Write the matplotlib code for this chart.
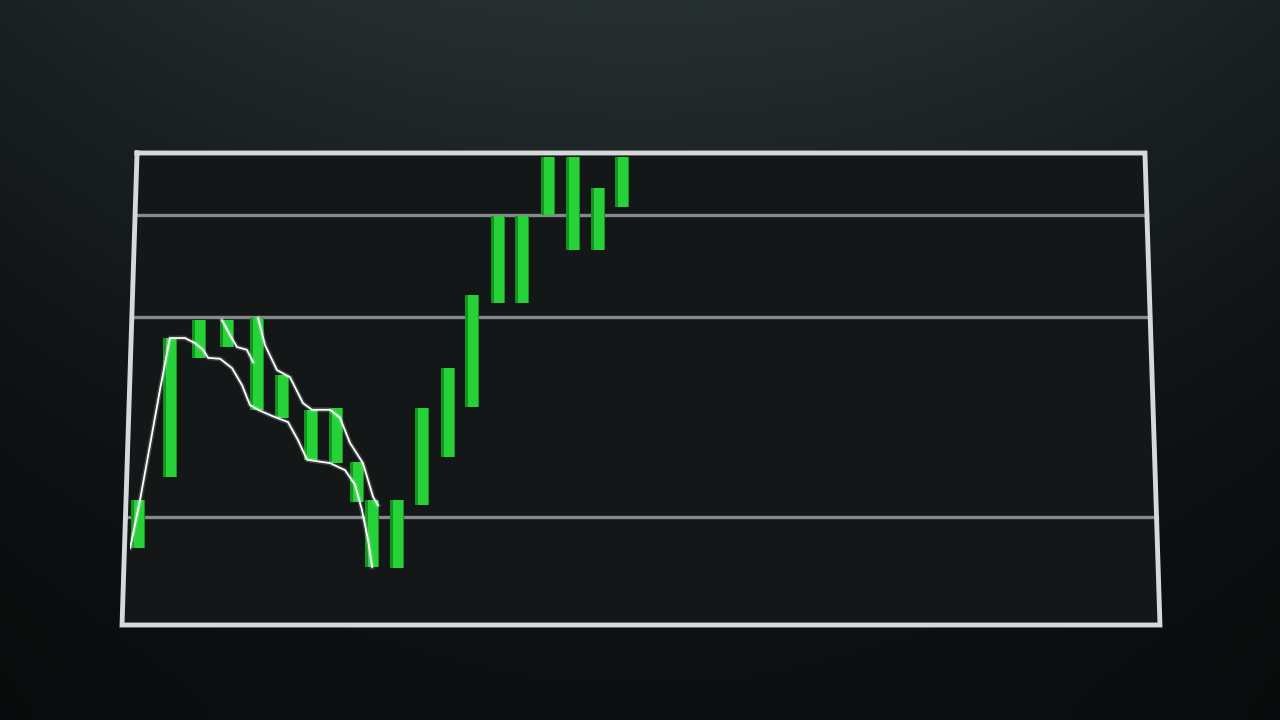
import numpy as np
import matplotlib
matplotlib.use("Agg")
import matplotlib.pyplot as plt

# bar data: time position, top and bottom price (price scale 0..100)
bar_t = [0.0, 1.25, 2.4, 3.5, 4.67, 5.65, 6.78, 7.76, 8.59, 9.18,
         10.16, 11.14, 12.16, 13.1, 14.12, 15.06, 16.08, 17.06, 18.04, 18.98]
bar_top = [26.5, 60.8, 64.6, 64.6, 65.0, 53.0, 45.6, 46.0, 34.5, 26.5,
           26.5, 46.0, 54.4, 69.9, 86.7, 86.7, 99.2, 99.2, 92.6, 99.2]
bar_bot = [16.3, 31.4, 56.6, 58.9, 45.6, 43.9, 35.0, 34.3, 26.1, 12.3,
           12.1, 25.4, 35.6, 46.2, 68.2, 68.2, 86.9, 79.4, 79.4, 88.6]

# white trace lines
low_t = [-0.31, 0.08, 0.47, 0.86, 1.25, 1.84, 2.24, 2.55, 2.75, 3.22, 3.69, 4.08,
         4.39, 4.71, 5.25, 5.88, 6.27, 6.63, 7.53, 8.12, 8.51, 8.78, 9.02, 9.18]
low_p = [16.3, 26.5, 38.1, 49.8, 60.8, 60.8, 59.7, 58.3, 56.6, 56.4, 54.4, 50.8,
         46.6, 45.6, 44.3, 43.0, 39.2, 35.0, 34.3, 32.8, 29.7, 24.4, 18.0, 12.3]
up1_t = [3.29, 3.61, 3.88, 4.27, 4.51]
up1_p = [64.6, 61.4, 58.9, 58.3, 55.7]
up2_t = [4.71, 4.98, 5.45, 5.96, 6.47, 6.82, 7.53, 7.92, 8.31, 8.82, 9.22, 9.41]
up2_p = [65.0, 59.3, 54.0, 52.5, 47.0, 45.6, 45.6, 43.9, 38.6, 34.3, 27.1, 25.4]

grid_levels = [22.9, 65.3, 86.9]

fig = plt.figure(figsize=(12.8, 7.2), dpi=100)

# background gradient
bg = fig.add_axes([0, 0, 1, 1])
bg.axis("off")
yy, xx = np.mgrid[0:1:200j, 0:1:300j]
top = np.array([0.15, 0.185, 0.19])
bot = np.array([0.05, 0.06, 0.065])
v = (1 - yy)[..., None]
img = bot + (top - bot) * v ** 1.5
vig = 1 - 0.3 * (np.abs(xx - 0.5) * 2) ** 2
img = img * vig[..., None]
bg.imshow(img, extent=[0, 1, 0, 1], aspect="auto", origin="upper")
bg.set_xlim(0, 1)
bg.set_ylim(0, 1)

ax = fig.add_axes([130 / 1280, 1 - 625 / 720, 1022 / 1280, 472 / 720])
ax.set_xlim(-0.314, 39.76)
ax.set_ylim(0, 100)
ax.axis("off")

# trapezoid frame (perspective)
def left(v):
    return -0.0078 + 0.0147 * v

def right(v):
    return 1.0078 - 0.0147 * v

fx = [left(1), right(1), right(0), left(0), left(1)]
fy = [1, 1, 0, 0, 1]
ax.fill(fx, fy, transform=ax.transAxes, color="#131718", zorder=0, clip_on=False)

for g in grid_levels:
    vv = g / 100
    ax.plot([left(vv), right(vv)], [vv, vv], transform=ax.transAxes,
            color="#85898a", lw=2.4, zorder=1, clip_on=False)

t = np.array(bar_t)
h = np.array(bar_top) - np.array(bar_bot)
ax.bar(t, h, bottom=bar_bot, width=0.56, color="#11951f", zorder=3)
ax.bar(t + 0.04, h, bottom=bar_bot, width=0.4, color="#27d239", zorder=3)

for xs, ys in [(low_t, low_p), (up1_t, up1_p), (up2_t, up2_p)]:
    ax.plot(xs, ys, color="white", lw=3.5, alpha=0.18, zorder=4)
    ax.plot(xs, ys, color="white", lw=1.3, zorder=5)

ax.plot(fx, fy, transform=ax.transAxes, color="#d6d9d9", lw=3.5,
        zorder=6, clip_on=False, solid_joinstyle="miter")

fig.savefig("out.png", dpi=100, facecolor="#1b1e1f")
